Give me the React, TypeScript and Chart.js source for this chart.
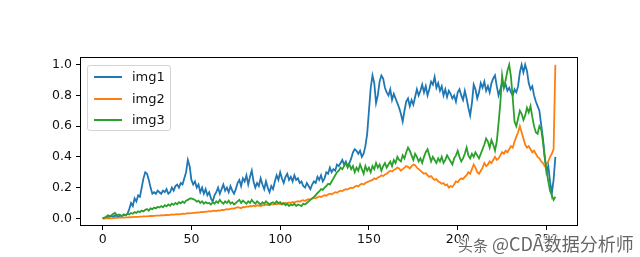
import React, { useEffect, useRef } from "react";
import { Chart, registerables } from "chart.js";

Chart.register(...registerables);

const seriesNames = ["img1", "img2", "img3"];
const seriesColors = ["#1f77b4", "#ff7f0e", "#2ca02c"];
const xTicks = [0, 50, 100, 150, 200, 250];
const yTicks = [0, 0.2, 0.4, 0.6, 0.8, 1.0];

const img1 = [
  0, 0, 0.005, 0.01, 0.01, 0.015, 0.01, 0.02, 0.015, 0.01,
  0.02, 0.015, 0.025, 0.02, 0.03, 0.06, 0.1, 0.08, 0.13, 0.11,
  0.15, 0.14, 0.2, 0.26, 0.3, 0.29, 0.25, 0.2, 0.16, 0.17,
  0.16, 0.18, 0.17, 0.16, 0.18, 0.17, 0.19, 0.16, 0.17, 0.2,
  0.18, 0.21, 0.22, 0.2, 0.23, 0.22, 0.26, 0.3, 0.38, 0.34,
  0.25, 0.22, 0.24, 0.2, 0.22, 0.17, 0.2, 0.16, 0.19, 0.15,
  0.17, 0.13, 0.11, 0.15, 0.17, 0.2, 0.16, 0.19, 0.22, 0.18,
  0.2, 0.17, 0.21, 0.18, 0.16, 0.19, 0.23, 0.25, 0.21, 0.26,
  0.24, 0.28, 0.22, 0.27, 0.31, 0.24, 0.2, 0.23, 0.21, 0.26,
  0.22, 0.19, 0.24, 0.2, 0.17, 0.21, 0.19, 0.24, 0.28, 0.25,
  0.3, 0.26, 0.23, 0.27, 0.29, 0.25, 0.27, 0.24, 0.28, 0.25,
  0.26, 0.23, 0.24, 0.21, 0.2, 0.23, 0.21, 0.19, 0.22, 0.24,
  0.23, 0.27, 0.25, 0.28, 0.24, 0.26, 0.3, 0.29, 0.33, 0.3,
  0.32, 0.31, 0.35, 0.34, 0.36, 0.38, 0.35, 0.37, 0.34, 0.36,
  0.39, 0.43, 0.45, 0.44, 0.42, 0.44, 0.4, 0.42, 0.47, 0.55,
  0.7, 0.85, 0.93, 0.88, 0.75, 0.8, 0.89, 0.93, 0.91, 0.85,
  0.82, 0.8, 0.84, 0.77, 0.81, 0.78, 0.75, 0.72, 0.68, 0.63,
  0.7, 0.76, 0.78, 0.73, 0.77, 0.74, 0.79, 0.84, 0.8, 0.83,
  0.87, 0.82, 0.86, 0.8, 0.84, 0.89, 0.87, 0.92, 0.85, 0.88,
  0.83, 0.86, 0.8, 0.84, 0.79, 0.83, 0.81, 0.78, 0.8, 0.76,
  0.82, 0.84, 0.8, 0.77, 0.83, 0.78, 0.72, 0.67, 0.75, 0.87,
  0.84, 0.78, 0.82, 0.88, 0.85, 0.89, 0.83, 0.86, 0.82, 0.88,
  0.91, 0.93, 0.86, 0.8, 0.84, 0.88, 0.85, 0.87, 0.83, 0.85,
  0.82, 0.8, 0.84, 0.82, 0.86, 0.95, 1.0, 0.95, 1.0, 0.96,
  0.88, 0.84, 0.86, 0.8, 0.76, 0.73, 0.7, 0.61, 0.52, 0.4,
  0.3, 0.34, 0.24, 0.16, 0.25, 0.4,
];

const img2 = [
  0, 0, 0, 0, 0, 0, 0.002, 0.003, 0.003, 0.004,
  0.004, 0.005, 0.005, 0.006, 0.006, 0.007, 0.008, 0.008, 0.009, 0.01,
  0.01, 0.011, 0.011, 0.012, 0.013, 0.013, 0.014, 0.015, 0.015, 0.016,
  0.017, 0.018, 0.018, 0.02, 0.019, 0.021, 0.022, 0.021, 0.023, 0.025,
  0.024, 0.026, 0.027, 0.026, 0.028, 0.03, 0.029, 0.031, 0.033, 0.032,
  0.034, 0.036, 0.035, 0.038, 0.037, 0.04, 0.042, 0.04, 0.044, 0.043,
  0.046, 0.045, 0.048, 0.05, 0.047, 0.052, 0.05, 0.055, 0.053, 0.057,
  0.06, 0.058, 0.062, 0.065, 0.063, 0.068, 0.072, 0.07, 0.066, 0.074,
  0.071, 0.077, 0.075, 0.08, 0.078, 0.082, 0.079, 0.085, 0.083, 0.08,
  0.086, 0.084, 0.09, 0.088, 0.085, 0.092, 0.089, 0.094, 0.091, 0.096,
  0.093, 0.098, 0.095, 0.1, 0.097, 0.103, 0.1, 0.106, 0.102, 0.108,
  0.112, 0.108, 0.115, 0.118, 0.113, 0.12, 0.125, 0.122, 0.128, 0.133,
  0.13, 0.137, 0.142, 0.138, 0.145, 0.15, 0.147, 0.155, 0.16, 0.156,
  0.163, 0.17, 0.166, 0.175, 0.18, 0.177, 0.185, 0.19, 0.187, 0.195,
  0.2, 0.197, 0.205, 0.212, 0.208, 0.218, 0.225, 0.22, 0.23, 0.236,
  0.24, 0.245, 0.25, 0.26, 0.255, 0.265, 0.27, 0.28, 0.275, 0.285,
  0.29, 0.3, 0.31, 0.305, 0.315, 0.32, 0.33, 0.325, 0.31, 0.32,
  0.33, 0.34, 0.335, 0.325, 0.34, 0.35, 0.345, 0.33, 0.32, 0.31,
  0.3, 0.29, 0.295, 0.28, 0.27, 0.275, 0.26, 0.25, 0.255, 0.24,
  0.235, 0.225, 0.23, 0.215, 0.22, 0.2, 0.21, 0.205, 0.22, 0.24,
  0.235, 0.25, 0.26, 0.255, 0.27, 0.28, 0.3, 0.29, 0.32, 0.35,
  0.33, 0.3, 0.29, 0.31, 0.33, 0.36, 0.34, 0.35, 0.37, 0.36,
  0.38, 0.4, 0.38, 0.39, 0.41, 0.43, 0.42, 0.44, 0.43, 0.45,
  0.47, 0.46, 0.5, 0.53, 0.56, 0.6, 0.56, 0.52, 0.48, 0.46,
  0.47, 0.45, 0.43, 0.44, 0.42, 0.4, 0.39, 0.37, 0.36, 0.34,
  0.35, 0.37, 0.4, 0.42, 0.45, 1.0,
];

const img3 = [
  0, 0.005, 0.01, 0.02, 0.015, 0.02, 0.03, 0.035, 0.02, 0.025,
  0.02, 0.015, 0.025, 0.02, 0.03, 0.025, 0.035, 0.03, 0.04, 0.035,
  0.045, 0.04, 0.05, 0.045, 0.055, 0.06, 0.05, 0.065, 0.06, 0.07,
  0.065, 0.075, 0.07, 0.08, 0.072, 0.085, 0.078, 0.09, 0.082, 0.095,
  0.088, 0.1, 0.092, 0.105, 0.098, 0.11, 0.1, 0.115, 0.12, 0.128,
  0.13, 0.125, 0.12, 0.108, 0.115, 0.1, 0.11, 0.095, 0.105, 0.098,
  0.1, 0.09, 0.105, 0.095, 0.11, 0.1, 0.12, 0.105, 0.095, 0.11,
  0.1, 0.115, 0.095, 0.105, 0.09, 0.1, 0.11, 0.12, 0.1, 0.115,
  0.105, 0.095, 0.11, 0.1, 0.12, 0.105, 0.095, 0.11, 0.1, 0.09,
  0.105, 0.095, 0.11, 0.1, 0.09, 0.1, 0.105, 0.095, 0.11, 0.1,
  0.105, 0.09, 0.1, 0.085, 0.095, 0.08, 0.09, 0.085, 0.095, 0.08,
  0.09, 0.085, 0.08, 0.095, 0.09, 0.1, 0.11, 0.12, 0.13, 0.14,
  0.15, 0.165, 0.175, 0.19, 0.185, 0.2, 0.21, 0.225, 0.22, 0.24,
  0.26, 0.28, 0.3, 0.31, 0.33, 0.32, 0.34, 0.36, 0.33, 0.35,
  0.32, 0.34, 0.3, 0.33, 0.31, 0.35, 0.32, 0.29, 0.34, 0.31,
  0.33, 0.3, 0.34, 0.32, 0.36, 0.33, 0.35, 0.31, 0.34, 0.36,
  0.33, 0.35, 0.37, 0.34, 0.38, 0.36, 0.4, 0.38, 0.37, 0.41,
  0.39, 0.43, 0.46, 0.44, 0.41, 0.38, 0.42, 0.4, 0.37, 0.39,
  0.36, 0.4, 0.43, 0.45, 0.41, 0.37, 0.4, 0.38, 0.36, 0.39,
  0.37, 0.4, 0.36, 0.38, 0.41, 0.39, 0.37, 0.35, 0.39, 0.41,
  0.44, 0.4, 0.37, 0.39, 0.42, 0.46, 0.41, 0.39, 0.42, 0.4,
  0.43, 0.41, 0.39, 0.42, 0.45, 0.48, 0.52, 0.5, 0.46, 0.51,
  0.48, 0.44, 0.5, 0.62, 0.75, 0.93, 0.85, 0.9, 0.96, 1.0,
  0.92, 0.78, 0.63, 0.6, 0.65, 0.7, 0.68, 0.64, 0.67, 0.72,
  0.69, 0.73, 0.66, 0.6, 0.56, 0.55, 0.6, 0.58, 0.5, 0.4,
  0.32, 0.24, 0.18, 0.15, 0.12, 0.14,
];

const allSeries = [img1, img2, img3];

export default function App() {
  const canvasRef = useRef<HTMLCanvasElement | null>(null);

  useEffect(() => {
    document.body.style.margin = "0";
    const canvas = canvasRef.current;
    if (!canvas) return;

    const boxPlugin = {
      id: "axesBox",
      afterDraw(chart: any) {
        const { ctx, chartArea } = chart;
        ctx.save();
        ctx.strokeStyle = "#000";
        ctx.lineWidth = 1;
        ctx.strokeRect(
          Math.round(chartArea.left) + 0.5,
          Math.round(chartArea.top) + 0.5,
          Math.round(chartArea.right - chartArea.left) - 1,
          Math.round(chartArea.bottom - chartArea.top) - 1
        );
        ctx.restore();
      },
    };

    const chart = new Chart(canvas, {
      type: "line",
      data: {
        datasets: allSeries.map((s, k) => ({
          label: seriesNames[k],
          data: s.map((v, i) => ({ x: i, y: v })),
          borderColor: seriesColors[k],
          backgroundColor: seriesColors[k],
          borderWidth: 1.8,
          pointRadius: 0,
          tension: 0,
          order: 3 - k,
        })),
      },
      options: {
        animation: false,
        responsive: false,
        layout: { padding: { left: 0, top: 57, right: 62, bottom: 0 } },
        plugins: {
          legend: { display: false },
          tooltip: { enabled: false },
        },
        scales: {
          x: {
            type: "linear",
            min: -12.75,
            max: 267.75,
            afterFit(scale: any) {
              scale.height = 31;
            },
            afterBuildTicks(scale: any) {
              scale.ticks = xTicks.map((v) => ({ value: v }));
            },
            ticks: {
              color: "#111",
              font: { family: "DejaVu Sans", size: 12.5 },
              padding: 2,
              maxRotation: 0,
              autoSkip: false,
              callback: (v: any) => String(v),
            },
            grid: {
              display: true,
              drawOnChartArea: false,
              drawTicks: true,
              tickLength: 4,
              color: "#000",
            },
            border: { display: false },
          },
          y: {
            type: "linear",
            min: -0.05,
            max: 1.05,
            afterFit(scale: any) {
              scale.width = 80;
            },
            afterBuildTicks(scale: any) {
              scale.ticks = yTicks.map((v) => ({ value: v }));
            },
            ticks: {
              color: "#111",
              font: { family: "DejaVu Sans", size: 12.5 },
              padding: 4,
              autoSkip: false,
              callback: (v: any) => Number(v).toFixed(1),
            },
            grid: {
              display: true,
              drawOnChartArea: false,
              drawTicks: true,
              tickLength: 4,
              color: "#000",
            },
            border: { display: false },
          },
        },
      },
      plugins: [boxPlugin],
    });

    return () => {
      chart.destroy();
    };
  }, []);

  return (
    <div
      style={{
        position: "fixed",
        left: 0,
        top: 0,
        width: 640,
        height: 257,
        background: "#fff",
        overflow: "hidden",
      }}
    >
      <canvas ref={canvasRef} width={640} height={257} style={{ width: 640, height: 257, display: "block" }} />
      <div
        style={{
          position: "absolute",
          left: 87,
          top: 65,
          width: 84,
          height: 66,
          border: "1px solid #d4d4d4",
          borderRadius: 3,
          background: "rgba(255,255,255,0.85)",
          boxSizing: "border-box",
          fontFamily: "DejaVu Sans",
          fontSize: 13,
          color: "#111",
        }}
      >
        {seriesNames.map((name, k) => (
          <div key={name} style={{ position: "absolute", left: 0, top: 2 + k * 21.5, height: 18, width: 82 }}>
            <div
              style={{
                position: "absolute",
                left: 6,
                top: 8,
                width: 28,
                height: 2,
                background: seriesColors[k],
              }}
            />
            <div style={{ position: "absolute", left: 44, top: 0, lineHeight: "18px" }}>{name}</div>
          </div>
        ))}
      </div>
      <div
        style={{
          position: "absolute",
          left: 458,
          top: 232,
          whiteSpace: "nowrap",
          fontFamily: "'Noto Sans CJK SC', sans-serif",
          color: "rgba(75,75,75,0.85)",
          lineHeight: "22px",
          textShadow:
            "1px 0 1px #fff, -1px 0 1px #fff, 0 1px 1px #fff, 0 -1px 1px #fff, 1px 1px 2px #fff, -1px -1px 2px #fff, 1px -1px 2px #fff, -1px 1px 2px #fff",
        }}
      >
        <span style={{ fontSize: 15 }}>头条</span>
        <span style={{ fontSize: 18 }}> @CDA数据分析师</span>
      </div>
    </div>
  );
}
